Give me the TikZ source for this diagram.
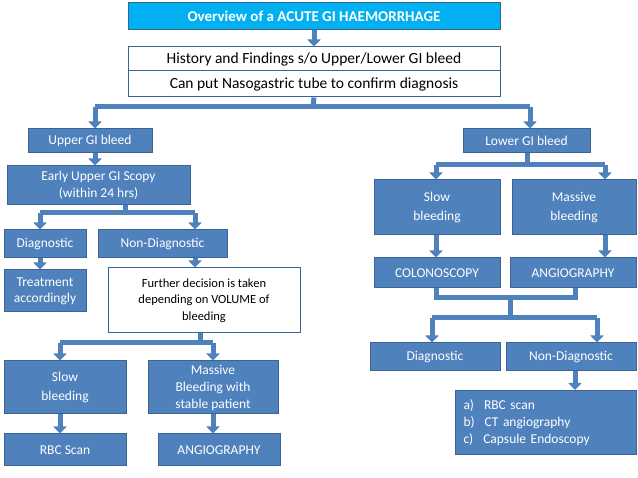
\documentclass[tikz,border=0pt]{standalone}
\usepackage{fontspec}
\setmainfont{Carlito}
\usetikzlibrary{arrows.meta}
\definecolor{bfill}{HTML}{4F81BD}
\definecolor{bline}{HTML}{3A6496}
\definecolor{cyanf}{HTML}{00B0F0}
\begin{document}
\begin{tikzpicture}[x=1pt,y=-1pt,
 box/.style={draw=bline,line width=1pt,fill=bfill,text=white,align=center,inner sep=1pt,font=\fontsize{13.5}{17}\selectfont},
 wbox/.style={draw=bline,line width=1pt,fill=white,text=black,align=center,inner sep=1pt,font=\fontsize{15.5}{18}\selectfont},
 con/.style={draw=bfill,line width=5pt},
 arr/.style={draw=bfill,line width=5pt,-{Triangle[length=7pt,width=13pt]}}]
\useasboundingbox (0,0) rectangle (638,478);
\newcommand\bx[6]{\node[#1,minimum width=#4-#2,minimum height=#5-#3] (#6) at ({(#2+#4)/2},{(#3+#5)/2})}
\bx{box}{128}{3}{500}{30}{title} [fill=cyanf,font=\bfseries\fontsize{15}{17}\selectfont] {Overview of a ACUTE GI HAEMORRHAGE};
\bx{wbox}{128}{47}{500}{71}{hist} {History and Findings s/o Upper/Lower GI bleed};
\bx{wbox}{128}{71}{500}{97}{naso} {Can put Nasogastric tube to confirm diagnosis};
\bx{box}{28}{129}{152}{153}{ugi} {Upper GI bleed};
\bx{box}{7}{166}{190}{205}{scopy} {Early Upper GI Scopy\\(within 24 hrs)};
\bx{box}{4}{230}{86}{258}{ldiag} {Diagnostic};
\bx{box}{98}{230}{227}{258}{lnd} {Non-Diagnostic};
\bx{box}{4}{270}{86}{312}{treat} [font=\fontsize{13.5}{16}\selectfont] {Treatment\\accordingly};
\bx{wbox}{108}{268}{300}{333}{fur} [font=\fontsize{12.5}{16.5}\selectfont] {Further decision is taken\\depending on VOLUME of\\bleeding};
\bx{box}{4}{361}{126}{414}{lslow} [font=\fontsize{13.5}{19}\selectfont] {Slow\\bleeding};
\bx{box}{148}{361}{278}{414}{lmass} {Massive\\Bleeding with\\stable patient};
\bx{box}{4}{434}{126}{466}{rbc} {RBC Scan};
\bx{box}{158}{434}{280}{466}{langio} {ANGIOGRAPHY};
\bx{box}{463}{129}{590}{153}{lgi} {Lower GI bleed};
\bx{box}{374}{180}{500}{235}{rslow} [font=\fontsize{13.5}{19}\selectfont] {Slow\\bleeding};
\bx{box}{512}{180}{636}{235}{rmass} [font=\fontsize{13.5}{19}\selectfont] {Massive\\bleeding};
\bx{box}{374}{258}{500}{288}{colo} {COLONOSCOPY};
\bx{box}{510}{258}{636}{288}{rangio} {ANGIOGRAPHY};
\bx{box}{370}{343}{500}{371}{rdiag} {Diagnostic};
\bx{box}{506}{343}{636}{371}{rnd} {Non-Diagnostic};
\node[box,minimum width=181,minimum height=64,text width=165,align=left,anchor=north west,font=\fontsize{13.5}{17}\selectfont] (list) at (455,390)
 {a)\hspace{10pt}RBC scan\\b)\hspace{10pt}CT angiography\\c)\hspace{10pt}Capsule Endoscopy};
% connectors
\draw[arr] (title.south) -- (hist.north);
\coordinate (b1) at (313,107); \coordinate (b1l) at (95,107); \coordinate (b1r) at (530,107);
\draw[con] (naso.south) -- (b1); \draw[con] (b1l) -- (b1r);
\draw[arr] (b1l) -- (ugi.north-|b1l); \draw[arr] (b1r) -- (lgi.north-|b1r);
\draw[arr] (ugi.south-|b1l) -- (scopy.north-|b1l);
\coordinate (b2) at (125,213); \coordinate (b2l) at (40,213); \coordinate (b2r) at (195,213);
\draw[con] (scopy.south-|b2) -- (b2); \draw[con] (b2l) -- (b2r);
\draw[arr] (b2l) -- (ldiag.north-|b2l); \draw[arr] (b2r) -- (lnd.north-|b2r);
\draw[arr] (ldiag.south-|b2l) -- (treat.north-|b2l);
\draw[arr] (lnd.south-|b2r) -- (fur.north-|b2r);
\coordinate (b3) at (200,343); \coordinate (b3l) at (60,343); \coordinate (b3r) at (213,343);
\draw[con] (fur.south-|b3) -- (b3); \draw[con] (b3l) -- (b3r);
\draw[arr] (b3l) -- (lslow.north-|b3l); \draw[arr] (b3r) -- (lmass.north-|b3r);
\draw[arr] (lslow.south-|b3l) -- (rbc.north-|b3l); \draw[arr] (lmass.south-|b3r) -- (langio.north-|b3r);
\coordinate (b4) at (527,165); \coordinate (b4l) at (436,165); \coordinate (b4r) at (605,165);
\draw[con] (lgi.south-|b4) -- (b4); \draw[con] (b4l) -- (b4r);
\draw[arr] (b4l) -- (rslow.north-|b4l); \draw[arr] (b4r) -- (rmass.north-|b4r);
\draw[arr] (rslow.south-|b4l) -- (colo.north-|b4l); \draw[arr] (rmass.south-|b4r) -- (rangio.north-|b4r);
\coordinate (b5l) at (436,298); \coordinate (b5r) at (575,298); \coordinate (b5) at (510,298);
\draw[con] (colo.south-|b5l) -- (b5l) -- (b5r) -- (rangio.south-|b5r);
\coordinate (b6) at (510,318); \coordinate (b6l) at (432,318); \coordinate (b6r) at (597,318);
\draw[con] (b5) -- (b6); \draw[con] (b6l) -- (b6r);
\draw[arr] (b6l) -- (rdiag.north-|b6l); \draw[arr] (b6r) -- (rnd.north-|b6r);
\coordinate (b7) at (575,371);
\draw[arr] (b7) -- (list.north-|b7);
\end{tikzpicture}
\end{document}
